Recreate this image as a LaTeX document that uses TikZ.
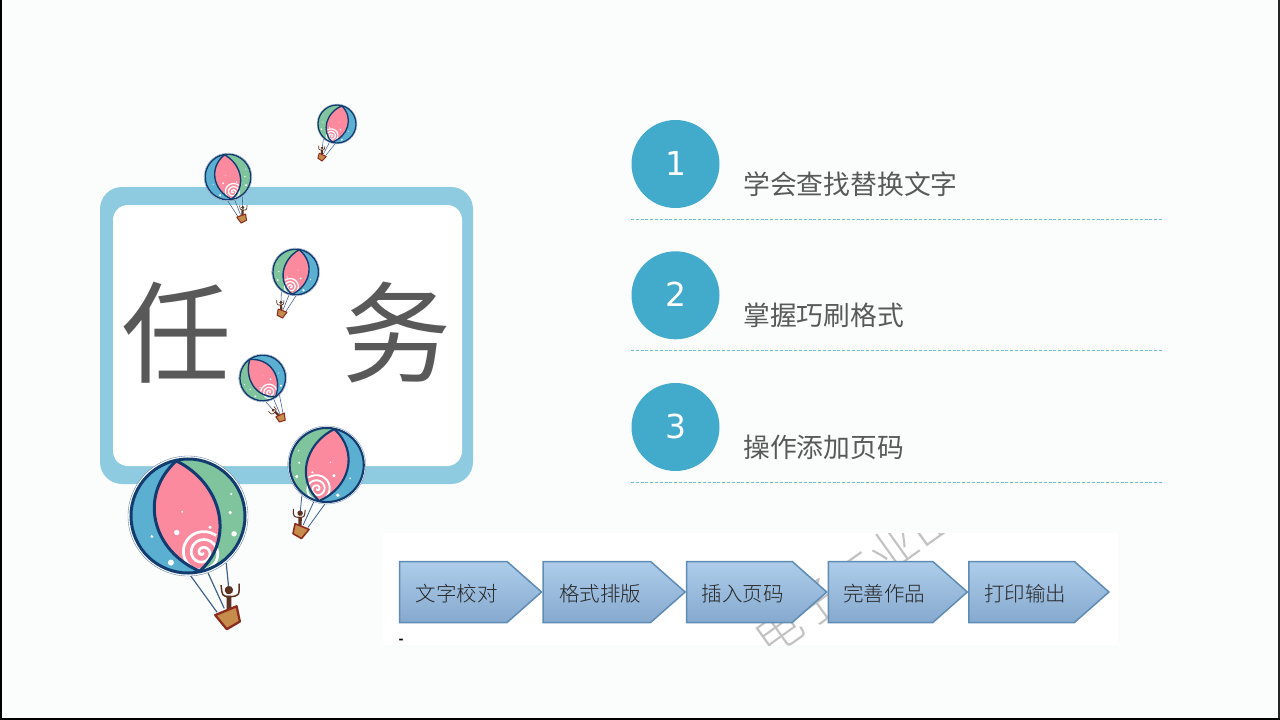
\documentclass[tikz,border=0pt]{standalone}
\usepackage{fontspec}
\setmainfont{DejaVu Sans}
\newfontfamily\cjk{Noto Sans CJK SC}
\newfontfamily\cjklight{Noto Sans CJK SC Light}
\usetikzlibrary{positioning, shapes.symbols}

\definecolor{pagebg}{HTML}{FBFDFD}
\definecolor{cardblue}{HTML}{8FCBE0}
\definecolor{numblue}{HTML}{42AACB}
\definecolor{ruleblue}{HTML}{6BBFD8}
\definecolor{textgray}{HTML}{595959}
\definecolor{balblue}{HTML}{5BB0D2}
\definecolor{balgreen}{HTML}{7FC49D}
\definecolor{balpink}{HTML}{FB8A9E}
\definecolor{baldark}{HTML}{123B70}
\definecolor{basketfill}{HTML}{C68C4C}
\definecolor{basketline}{HTML}{8C2C1E}
\definecolor{manbrown}{HTML}{5C3222}
\definecolor{stepline}{HTML}{5F8CB4}
\definecolor{stepup}{HTML}{ADCDEA}
\definecolor{stepdown}{HTML}{86A9CE}

\tikzset{
    numcircle/.style={circle, fill=numblue, text=white, minimum size=88pt, inner sep=0pt, text height=22pt, text depth=0pt, font=\fontsize{33}{33}\selectfont},
    tasktext/.style={anchor=west, text=textgray, inner sep=0pt, font=\cjk\fontsize{26.8}{27}\selectfont},
    taskrule/.style={ruleblue, line width=.9pt, dash pattern=on 3pt off 1.8pt},
    stepsign/.style={signal, signal to=east, signal pointer angle=83, draw=stepline, line width=1.5pt, top color=stepup, bottom color=stepdown, minimum height=61pt, inner sep=0pt, outer sep=0pt, text=black!85, text height=20pt, text depth=1.4pt, execute at begin node=\hspace*{7pt}, font=\cjklight\fontsize{20.5}{21}\selectfont},
    pics/balloon/.style={code={
        % ropes and passenger
        \draw[baldark!80, line width=#1*.4 pt] (-.17,.97) -- (.14,1.67) (.13,1) -- (.27,1.63) (.46,.9) -- (.41,1.35);
        \draw[manbrown, line width=#1*.5 pt] (.3,1.24) .. controls (.28,1.42) .. (.39,1.46) .. controls (.56,1.48) .. (.6,1.28);
        \draw[manbrown, line width=#1*1.6 pt] (.39,1.44) -- (.34,1.7);
        \fill[manbrown] (.41,1.35) circle[radius=.07];
        \draw[basketline, fill=basketfill, line width=#1*.75 pt, line join=round] (.1,1.71) -- (.48,1.64) -- (.48,1.9) -- (.24,1.98) -- cycle;
        % envelope
        \fill[white] (0,0) circle[radius=1];
        \draw[baldark!70, line width=#1*.12 pt] (0,0) circle[radius=1];
        \fill[balblue] (0,0) circle[radius=.95];
        \begin{scope}
            \clip (0,0) circle[radius=.95];
            \fill[balgreen] (0,-.96) .. controls (.72,-.4) and (.72,.5) .. (0,.96) -- (1,1) -- (1,-1) -- cycle;
            \fill[balpink] (0,-.94) .. controls (-.75,-.5) and (-.7,.45) .. (0,.94) .. controls (.68,.55) and (.68,-.4) .. (0,-.94);
            \draw[white, line width=#1*.9 pt] plot[domain=0:1000, samples=70, smooth] ({.11+.00036*\x*cos(\x+40)},{.65+.00036*\x*sin(\x+40)});
            \foreach \sx/\sy/\sr in {-.24/.23/.045, -.44/.7/.05, -.66/.21/.025, -.08/-.09/.018, .32/.26/.03, .69/.45/.045, .7/.09/.03, .78/-.21/.02}
                \fill[white] (\sx,\sy) circle[radius=\sr];
        \end{scope}
        \draw[baldark, line width=#1 pt] (0,-.94) .. controls (-.75,-.5) and (-.7,.45) .. (0,.94) .. controls (.68,.55) and (.68,-.4) .. (0,-.94);
        \draw[baldark, line width=#1 pt] (0,0) circle[radius=.95];
    }},
}

\begin{document}
\begin{tikzpicture}[x=1pt, y=-1pt, node distance=1.6pt]
    \useasboundingbox (0,0) rectangle (1280,720);
    \fill[pagebg] (0,0) rectangle (1280,720);
    \fill[black] (0,0) rectangle (2,720);
    \fill[black!85] (1278,0) rectangle (1280,720);
    \fill[black] (0,718) rectangle (1280,720);

    % title card
    \fill[cardblue, rounded corners=22pt] (100,187) rectangle (473,484);
    \fill[white, rounded corners=15pt] (113,205) rectangle (462,466);
    \node[text=textgray, inner sep=0pt, font=\cjk\fontsize{110}{110}\selectfont] (title) at (286,333) {任　务};

    % balloons
    \pic (bal1) [rotate=-15, scale=20, xscale=-1] at (337,124) {balloon=1.3};
    \pic (bal2) [rotate=9, scale=24] at (228,177) {balloon=1.4};
    \pic (bal3) [rotate=-9, scale=24, xscale=-1] at (295.7,272) {balloon=1.4};
    \pic (bal4) [rotate=35, scale=24, xscale=-1] at (262.7,378) {balloon=1.4};
    \pic (bal5) [rotate=-12, scale=39, xscale=-1] at (326.7,465) {balloon=2.1};
    \pic (bal6) [rotate=12, scale=60] at (188,516) {balloon=3};

    % task list
    \foreach \i/\cy/\task in {1/164/学会查找替换文字, 2/295.3/掌握巧刷格式, 3/427/操作添加页码} {
        \node[numcircle] (num\i) at (675.5,\cy) {\i};
        \node[tasktext] (task\i) at (743,\cy+20.3) {\task};
        \coordinate (ruleL\i) at (631,\cy+55.5);
        \coordinate (ruleR\i) at (1162,\cy+55.5);
        \draw[taskrule] (ruleL\i) -- (ruleR\i);
    }

    % pasted flow picture
    \fill[white] (383,533) rectangle (1118,645);
    \begin{scope}
        \clip (383,533) rectangle (1118,645);
        \node[rotate=35.5, text=black!24, inner sep=0pt, font=\cjklight\fontsize{47}{47}\selectfont] (stamp) at (893,548) {电子工业出版社};
    \end{scope}
    \node[inner sep=0pt, font=\bfseries\fontsize{12}{12}\selectfont] (dash) at (401,641) {-};
    \node[stepsign, minimum width=142pt, anchor=west] (step1) at (399.5,592) {文字校对};
    \node[stepsign, minimum width=142pt, right=of step1] (step2) {格式排版};
    \node[stepsign, minimum width=140pt, right=of step2] (step3) {插入页码};
    \node[stepsign, minimum width=139pt, right=of step3] (step4) {完善作品};
    \node[stepsign, minimum width=140pt, right=of step4] (step5) {打印输出};
\end{tikzpicture}
\end{document}
